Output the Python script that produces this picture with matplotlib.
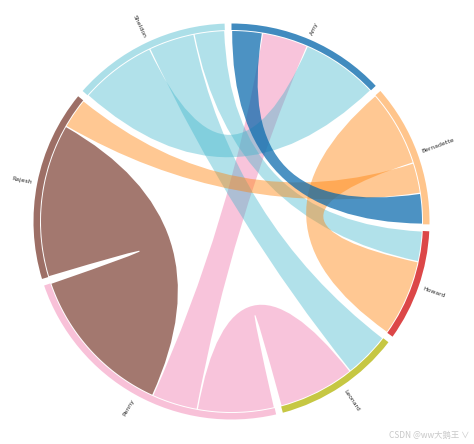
import numpy as np
import matplotlib.pyplot as plt
from matplotlib.colors import to_rgb
from matplotlib.path import Path
from matplotlib.patches import PathPatch, Wedge

# nodes, clockwise from 12 o'clock
nodes = ['Amy', 'Bernadette', 'Howard', 'Leonard', 'Penny', 'Rajesh', 'Sheldon']
node_colors = ['#1f77b4', '#ffbb78', '#d62728', '#bcbd22', '#f7b6d2', '#8c564b', '#9edae5']

# links (coloured by source), in drawing order
sources = ['Penny', 'Penny', 'Rajesh', 'Sheldon', 'Sheldon', 'Sheldon', 'Bernadette', 'Bernadette', 'Amy']
targets = ['Amy', 'Leonard', 'Penny', 'Amy', 'Leonard', 'Howard', 'Rajesh', 'Howard', 'Bernadette']
values = [3, 5, 10, 5, 3, 2, 2, 5, 2]

# order of the link ends inside each node, clockwise
partner_order = {
    'Amy': ['Bernadette', 'Penny', 'Sheldon'],
    'Bernadette': ['Howard', 'Rajesh', 'Amy'],
    'Howard': ['Sheldon', 'Bernadette'],
    'Leonard': ['Sheldon', 'Penny'],
    'Penny': ['Leonard', 'Amy', 'Rajesh'],
    'Rajesh': ['Penny', 'Bernadette'],
    'Sheldon': ['Amy', 'Leonard', 'Howard'],
}

W, H = 474, 444
cx, cy = 231.5, 221.5
R = 198.0
ring_w = 6.5
rc = R - ring_w - 1.0
gap = 2.0
pad = 0.2

link_val = {}
for s, t, v in zip(sources, targets, values):
    link_val[(s, t)] = v
    link_val[(t, s)] = v

total = sum(values) * 2
unit = (360 - gap * len(nodes)) / total

node_span = {}
sub_span = {}
cur = 90.0
for n in nodes:
    start = cur
    for p in partner_order[n]:
        v = link_val[(n, p)]
        sub_span[(n, p)] = (cur, cur - v * unit)
        cur -= v * unit
    node_span[n] = (start, cur)
    cur -= gap


def chord_style(col):
    # same look as 0.8 alpha on white, but darker where chords overlap
    single = 0.8 * np.array(to_rgb(col)) + 0.2
    a = max(0.4, 1 - single.min() + 0.02)
    base = np.clip(1 - (1 - single) / a, 0, 1)
    return tuple(base), a


fig = plt.figure(figsize=(W / 100, H / 100), dpi=100)
ax = fig.add_axes([0, 0, 1, 1])
ax.set_xlim(-cx, W - cx)
ax.set_ylim(-(H - cy), cy)
ax.axis('off')


def arc(r, a0, a1, n=80):
    a = np.radians(np.linspace(a0, a1, n))
    return list(zip(r * np.cos(a), r * np.sin(a)))


def pt(r, a):
    a = np.radians(a)
    return (r * np.cos(a), r * np.sin(a))


for s, t in zip(sources, targets):
    s0, s1 = sub_span[(s, t)]
    t0, t1 = sub_span[(t, s)]
    s0, s1 = s0 - pad, s1 + pad
    t0, t1 = t0 - pad, t1 + pad
    verts = arc(rc, s0, s1)
    codes = [Path.MOVETO] + [Path.LINETO] * (len(verts) - 1)
    verts += [(0, 0), pt(rc, t0)]
    codes += [Path.CURVE3, Path.CURVE3]
    ta = arc(rc, t0, t1)[1:]
    verts += ta
    codes += [Path.LINETO] * len(ta)
    verts += [(0, 0), pt(rc, s0), (0, 0)]
    codes += [Path.CURVE3, Path.CURVE3, Path.CLOSEPOLY]
    col, a = chord_style(node_colors[nodes.index(s)])
    ax.add_patch(PathPatch(Path(verts, codes), facecolor=col, edgecolor='none', alpha=a))

for n, col in zip(nodes, node_colors):
    a0, a1 = node_span[n]
    ax.add_patch(Wedge((0, 0), R, a1, a0, width=ring_w, facecolor=col, edgecolor='none', alpha=0.85))
    mid = (a0 + a1) / 2 % 360
    x, y = pt(R + 5, mid)
    if np.cos(np.radians(mid)) >= 0:
        rot, ha = mid if mid <= 180 else mid - 360, 'left'
    else:
        rot, ha = mid - 180, 'right'
    ax.text(x, y, n, rotation=rot, ha=ha, va='center', rotation_mode='anchor',
            fontsize=4.4, color='#2b2b2b')

fig.text(0.99, 0.01, 'CSDN @ww大鹅王 ∨', ha='right', va='bottom', fontsize=6,
         color='#c8c8c8', family=['Noto Sans CJK SC', 'DejaVu Sans'])

fig.savefig('out.png', dpi=100)
